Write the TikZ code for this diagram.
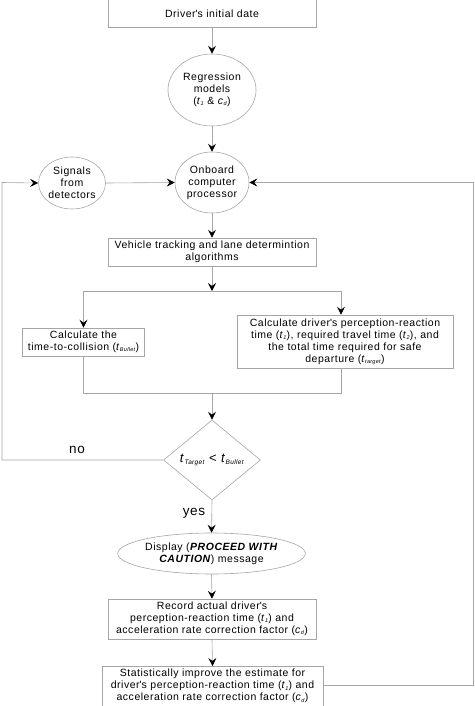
\documentclass[tikz,border=0pt]{standalone}
\usepackage{fontspec}
\setmainfont{Liberation Sans}[LetterSpace=5]
\usetikzlibrary{shapes.geometric,arrows.meta}
\newcommand{\mysub}[1]{\raisebox{-1.2pt}{\fontsize{5.5}{6}\selectfont\textit{#1}}}
\newcommand{\tv}[1]{\textit{t}\mysub{#1}}
\newcommand{\bigsub}[1]{\raisebox{-2pt}{\fontsize{6.5}{7}\selectfont\textit{#1}}}
\newcommand{\apo}{\textquotesingle}
\begin{document}
\begin{tikzpicture}[x=1pt,y=-1pt,
  line/.style={draw=gray!70, line width=0.6pt},
  arr/.style={line, -{Stealth[length=8pt,width=8pt,inset=3pt,color=black,fill=black]}},
  txt/.style={font=\fontsize{10.5}{12}\selectfont, align=center},
  box/.style={txt, draw=gray!70, line width=0.6pt, rectangle, inner sep=2pt},
  ell/.style={txt, draw=gray!70, line width=0.6pt, ellipse, inner sep=0pt},
  lab/.style={font=\fontsize{13.5}{15}\selectfont, inner sep=0pt}]
\fill[white] (0,0) rectangle (474,706);
\useasboundingbox (0,0) rectangle (474,706);
\clip (0,0) rectangle (474,706);

\node[box, anchor=south, minimum width=208pt, text height=30pt, text depth=8pt] (top) at (212,28) {Driver\apo s initial date};
\node[ell, minimum width=88pt, minimum height=72pt] (reg) at (212,90) {Regression\\models\\(\textit{t}\mysub{1} \& \textit{c}\mysub{d})};
\node[ell, minimum width=74pt, minimum height=61pt] (onb) at (212,182.5) {Onboard\\computer\\processor};
\node[ell, minimum width=64pt, minimum height=52pt] (sig) at (72,183) {Signals\\from\\detectors};
\node[box, minimum width=208pt, minimum height=28pt] (veh) at (212,252) {Vehicle tracking and lane determintion\\algorithms};
\node[box, minimum width=122pt, minimum height=28pt] (lbox) at (83.5,342) {Calculate the\\time-to-collision (\tv{Bullet})};
\node[box, minimum width=216pt, minimum height=53pt] (rbox) at (345,341.5) {Calculate driver\apo s perception-reaction\\time (\tv{1}), required travel time (\tv{2}), and\\the total time required for safe\\departure (\tv{target})};
\node[diamond, draw=gray!70, line width=0.6pt, inner sep=0pt, aspect=1.2, minimum width=97pt, minimum height=80pt, font=\fontsize{13}{15}\selectfont] (dia) at (212,460) {\textit{t}\bigsub{Target} < \textit{t}\bigsub{Bullet}};
\node[ell, minimum width=175pt, minimum height=41pt] (disp) at (211.5,553.5) {Display (\textbf{\textit{PROCEED WITH}}\\\textbf{\textit{CAUTION}}) message};
\node[box, minimum width=208pt, minimum height=40pt] (rec) at (212,619) {Record actual driver\apo s\\perception-reaction time (\tv{1}) and\\acceleration rate correction factor (\textit{c}\mysub{d})};
\node[box, anchor=north, minimum width=221pt, inner sep=3pt, text depth=20pt] (stat) at (212.5,666) {Statistically improve the estimate for\\driver\apo s perception-reaction time (\tv{1}) and\\acceleration rate correction factor (\textit{c}\mysub{d})};

\node[lab] (yes) at (194,513) {yes};
\node[lab] (no) at (77,450) {no};

\coordinate (split) at (212,291);
\coordinate (sl) at (83.5,291);
\coordinate (sr) at (341,291);
\coordinate (merge) at (212,393);
\coordinate (ml) at (83.5,393);
\coordinate (mr) at (341,393);
\coordinate (lt) at (2,182.5);
\coordinate (rb) at (473,685);

\draw[arr] (top.south) -- (reg.north);
\draw[arr] (reg.south) -- (onb.north);
\draw[arr] (onb.south) -- (veh.north);
\draw[arr] (veh.south) -- (split);
\draw[line] (sl) -- (sr);
\draw[arr] (sl) -- (lbox.north);
\draw[arr] (sr) -- (sr |- rbox.north);
\draw[line] (lbox.south) -- (ml) -- (mr) -- (mr |- rbox.south);
\draw[arr] (merge) -- (dia.north);
\draw[arr] (dia.west) -| (lt) -- (sig.west);
\draw[arr] (sig.east) -- (onb.west);
\draw[arr] (stat.east |- rb) -- (rb) |- (onb.east);
\draw[arr] (dia.south) -- (disp.north);
\draw[arr] (disp.south) -- (rec.north);
\draw[arr] (rec.south) -- (stat.north);
\end{tikzpicture}
\end{document}
